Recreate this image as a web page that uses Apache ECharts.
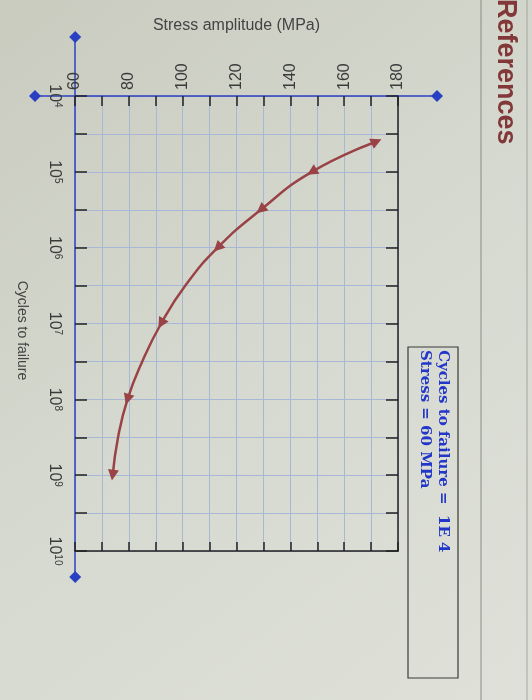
<!DOCTYPE html>
<html>
<head>
<meta charset="utf-8">
<script src="https://cdn.jsdelivr.net/npm/echarts@6/dist/echarts.min.js"></script>
<style>
html,body{margin:0;padding:0;}
#chart{width:532px;height:700px;}
</style>
</head>
<body>
<div id="chart"></div>
<script>
// Data
const stressMPa  = [172, 148, 129, 113, 101, 92, 85, 79.5, 76, 74];     // stress amplitude (MPa)
const cyclesExp  = [4.6, 5, 5.5, 6, 6.5, 7, 7.5, 8, 8.5, 9];           // log10(cycles to failure)
const arrowIndex = [0, 1, 2, 3, 5, 7, 9];                               // points carrying a triangle marker
const stressTickLabels = [60, 80, 100, 120, 140, 160, 180];
const cycleTickExps    = [4, 5, 6, 7, 8, 9, 10];
const boxLines = ['Cycles to failure =  1E 4', 'Stress = 60 MPa'];

const chart = echarts.init(document.getElementById('chart'), null, {renderer: 'canvas'});

const gridColor = '#a9b7d6';
const labelColor = '#3a3a3a';
const blue = '#2a40c4';
const curveColor = '#9a4347';

function buildData(rotations) {
  return stressMPa.map((s, i) => {
    const item = {value: [s, cyclesExp[i]]};
    if (arrowIndex.indexOf(i) < 0) item.symbol = 'none';
    if (rotations) item.symbolRotate = rotations[i];
    return item;
  });
}

const option = {
  animation: false,
  backgroundColor: {
    type: 'linear', x: 0, y: 0, x2: 1, y2: 1,
    colorStops: [{offset: 0, color: '#c9cbbf'}, {offset: 0.5, color: '#d6d9cf'}, {offset: 1, color: '#dfe1d9'}]
  },
  textStyle: {fontFamily: 'Liberation Sans, Arial, sans-serif'},
  grid: [
    {left: 75, top: 96, width: 323, height: 455},
    {left: 35, top: 37, width: 402, height: 540}
  ],
  xAxis: [
    {
      gridIndex: 0, type: 'value', position: 'top', min: 60, max: 180, interval: 10,
      axisLine: {show: false},
      axisTick: {show: true, inside: true, length: 10, lineStyle: {color: '#222', width: 1.5}},
      axisLabel: {
        rotate: -90, margin: 6, fontSize: 16, color: labelColor,
        formatter: v => stressTickLabels.indexOf(v) >= 0 ? String(v) : ''
      },
      splitLine: {show: true, lineStyle: {color: gridColor, width: 1}},
      name: 'Stress amplitude (MPa)', nameLocation: 'middle', nameGap: 62,
      nameTextStyle: {fontSize: 16, color: '#444'}
    },
    {
      gridIndex: 0, type: 'value', position: 'bottom', min: 60, max: 180, interval: 10,
      axisLine: {show: true, onZero: false, lineStyle: {color: '#222', width: 1.5}},
      axisTick: {show: true, inside: true, length: 9, lineStyle: {color: '#222', width: 1.5}},
      axisLabel: {show: false}, splitLine: {show: false}
    },
    {
      gridIndex: 1, type: 'value', min: -15, max: 135,
      axisLine: {show: true, onZero: true, symbol: ['diamond', 'diamond'], symbolSize: [12, 12],
                 lineStyle: {color: blue, width: 1.5}},
      axisTick: {show: false}, axisLabel: {show: false}, splitLine: {show: false}
    }
  ],
  yAxis: [
    {
      gridIndex: 0, type: 'value', min: 4, max: 10, interval: 0.5, inverse: true, position: 'left',
      axisLine: {show: false},
      axisTick: {show: true, inside: true, length: 12, lineStyle: {color: '#222', width: 1.5}},
      axisLabel: {
        rotate: -90, margin: 12, color: labelColor,
        formatter: v => cycleTickExps.indexOf(v) >= 0 ? '{b|10}{s|' + v + '}' : '',
        rich: {
          b: {fontSize: 16, lineHeight: 18, color: labelColor},
          s: {fontSize: 10, lineHeight: 10, verticalAlign: 'top', color: labelColor}
        }
      },
      splitLine: {show: true, lineStyle: {color: gridColor, width: 1}},
      name: 'Cycles to failure', nameLocation: 'middle', nameRotate: -90, nameGap: 46,
      nameTextStyle: {fontSize: 14, color: '#444', padding: [0, 0, 0, 14]}
    },
    {
      gridIndex: 0, type: 'value', min: 4, max: 10, interval: 0.5, inverse: true, position: 'right',
      axisLine: {show: true, onZero: false, lineStyle: {color: '#222', width: 1.5}},
      axisTick: {show: true, inside: true, length: 12, lineStyle: {color: '#222', width: 1.5}},
      axisLabel: {show: false}, splitLine: {show: false}
    },
    {
      gridIndex: 1, type: 'value', min: -0.78, max: 6.35, inverse: true,
      axisLine: {show: true, onZero: true, symbol: ['diamond', 'diamond'], symbolSize: [12, 12],
                 lineStyle: {color: blue, width: 1.5}},
      axisTick: {show: false}, axisLabel: {show: false}, splitLine: {show: false}
    }
  ],
  series: [{
    type: 'line', xAxisIndex: 0, yAxisIndex: 0, smooth: true,
    symbol: 'triangle', symbolSize: 11,
    lineStyle: {color: curveColor, width: 2.5},
    itemStyle: {color: curveColor},
    data: buildData(null)
  }],
  graphic: [
    {type: 'line', shape: {x1: 481, y1: 0, x2: 481, y2: 700}, style: {stroke: '#8a8c86', lineWidth: 1}},
    {type: 'line', shape: {x1: 527, y1: 0, x2: 527, y2: 700}, style: {stroke: '#a4a69f', lineWidth: 1}},
    {type: 'text', x: 505, y: -1, rotation: -Math.PI / 2,
     style: {text: 'References', font: 'bold 27px "Liberation Sans", Arial, sans-serif', fill: '#823838',
             textAlign: 'left', textVerticalAlign: 'middle'}},
    {type: 'rect', shape: {x: 408, y: 347, width: 50, height: 331},
     style: {fill: 'rgba(0,0,0,0)', stroke: '#3a3a36', lineWidth: 1.2}},
    {type: 'text', x: 443, y: 350, rotation: -Math.PI / 2,
     style: {text: boxLines[0], font: 'bold 15px "DejaVu Serif", serif', fill: '#2236c8',
             textAlign: 'left', textVerticalAlign: 'middle'}},
    {type: 'text', x: 425, y: 350, rotation: -Math.PI / 2,
     style: {text: boxLines[1], font: 'bold 15px "DejaVu Serif", serif', fill: '#2236c8',
             textAlign: 'left', textVerticalAlign: 'middle'}}
  ]
};

chart.setOption(option);

// Orient each triangle along the curve, using the chart's own scales
const px = stressMPa.map((s, i) => chart.convertToPixel({xAxisIndex: 0, yAxisIndex: 0}, [s, cyclesExp[i]]));
const rotations = px.map((p, i) => {
  let a, b;
  if (i === 0) { a = px[1]; b = px[0]; }            // first arrow points back up the curve
  else { a = px[Math.max(0, i - 1)]; b = px[Math.min(px.length - 1, i + 1)]; }
  const dx = b[0] - a[0], dy = b[1] - a[1];
  return Math.atan2(-dx, -dy) * 180 / Math.PI;
});
chart.setOption({series: [{data: buildData(rotations)}]});
</script>
</body>
</html>
